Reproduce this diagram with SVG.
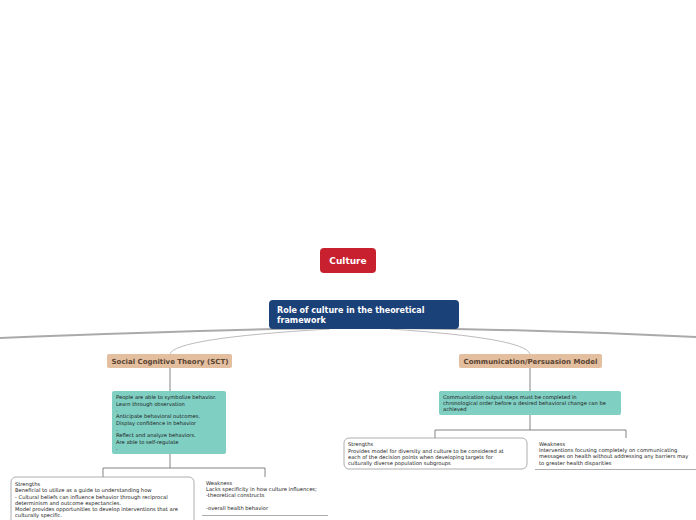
<svg xmlns="http://www.w3.org/2000/svg" width="696" height="520" viewBox="0 0 696 520">
<style>
.b{font-family:"DejaVu Sans",sans-serif;font-weight:bold}
.s{font-family:"DejaVu Sans",sans-serif;font-size:5.2px;fill:#222}
.tl{fill:#e3bfa0}
.tt{font-size:7px;fill:#5a4433;text-anchor:middle}
.teal{fill:#7fcfc2}
.c{fill:none;stroke:#666;stroke-width:0.8}
.card{fill:#fff;stroke:#999;stroke-width:0.8}
</style>
<rect width="696" height="520" fill="#fff"/>
<g id="connectors">
<path d="M330 328 Q200 330 0 338" fill="none" stroke="#aaa" stroke-width="2"/>
<path d="M400 328 Q550 330 696 337" fill="none" stroke="#aaa" stroke-width="2"/>
<path d="M330 329 Q175 338 170 354" fill="none" stroke="#aaa" stroke-width="0.8"/>
<path d="M390 329 Q525 338 530 354" fill="none" stroke="#aaa" stroke-width="0.8"/>
<path class="c" d="M170 368V391M170 454V468M103 477V468H265V477"/>
<path class="c" d="M530 368V391M530 415V430M435 438V430H626V438"/>
</g>
<g id="culture"><rect x="320" y="248" width="56" height="25" rx="4" fill="#c8202f"/><text class="b" x="348" y="264" font-size="9" fill="#fff" text-anchor="middle">Culture</text></g>
<g id="role"><rect x="269" y="300" width="190" height="29" rx="4" fill="#1a4178"/><text class="b" font-size="8" fill="#fff"><tspan x="277" y="313">Role of culture in the theoretical</tspan><tspan x="277" y="323">framework</tspan></text></g>
<g id="sct"><rect class="tl" x="107" y="354" width="125" height="14" rx="2"/><text class="b tt" x="170" y="364">Social Cognitive Theory (SCT)</text></g>
<g id="comm"><rect class="tl" x="459" y="354" width="143" height="14" rx="2"/><text class="b tt" x="530.5" y="364">Communication/Persuasion Model</text></g>
<g id="sct-desc"><rect class="teal" x="112" y="391" width="114" height="63" rx="2"/><text class="s"><tspan x="116" y="399">People are able to symbolize behavior.</tspan><tspan x="116" y="405.5">Learn through observation</tspan><tspan x="116" y="412">.</tspan><tspan x="116" y="418">Anticipate behavioral outcomes.</tspan><tspan x="116" y="424.5">Display confidence in behavior</tspan><tspan x="116" y="431">.</tspan><tspan x="116" y="437">Reflect and analyze behaviors.</tspan><tspan x="116" y="443.5">Are able to self-regulate</tspan><tspan x="116" y="450">.</tspan></text></g>
<g id="sct-strengths"><rect class="card" x="11" y="477" width="183" height="50" rx="5"/><text class="s"><tspan x="15" y="486">Strengths</tspan><tspan x="15" y="492">Beneficial to utilize as a guide to understanding how</tspan><tspan x="15" y="498.5">- Cultural beliefs can influence behavior through reciprocal</tspan><tspan x="15" y="504.5">determinism and outcome expectancies.</tspan><tspan x="15" y="511">Model provides opportunities to develop interventions that are</tspan><tspan x="15" y="517">culturally specific.</tspan></text></g>
<g id="sct-weakness"><text class="s"><tspan x="206" y="485">Weakness</tspan><tspan x="206" y="491">Lacks specificity in how culture influences;</tspan><tspan x="206" y="497">-theoretical constructs</tspan><tspan x="206" y="510">-overall health behavior</tspan></text><line x1="202" y1="515.5" x2="328" y2="515.5" stroke="#999" stroke-width="0.8"/></g>
<g id="comm-desc"><rect class="teal" x="439" y="391" width="182" height="24" rx="2"/><text class="s"><tspan x="443" y="399">Communication output steps must be completed in</tspan><tspan x="443" y="405">chronological order before a desired behavioral change can be</tspan><tspan x="443" y="411">achieved</tspan></text></g>
<g id="comm-strengths"><rect class="card" x="344" y="438" width="183" height="31" rx="5"/><text class="s"><tspan x="348" y="446">Strengths</tspan><tspan x="348" y="452.5">Provides model for diversity and culture to be considered at</tspan><tspan x="348" y="458.5">each of the decision points when developing targets for</tspan><tspan x="348" y="464.5">culturally diverse population subgroups</tspan></text></g>
<g id="comm-weakness"><text class="s"><tspan x="539" y="445.5">Weakness</tspan><tspan x="539" y="452">Interventions focusing completely on communicating</tspan><tspan x="539" y="458">messages on health without addressing any barriers may</tspan><tspan x="539" y="464.5">to greater health disparities</tspan></text><line x1="535" y1="469.5" x2="696" y2="469.5" stroke="#999" stroke-width="0.8"/></g>
</svg>
